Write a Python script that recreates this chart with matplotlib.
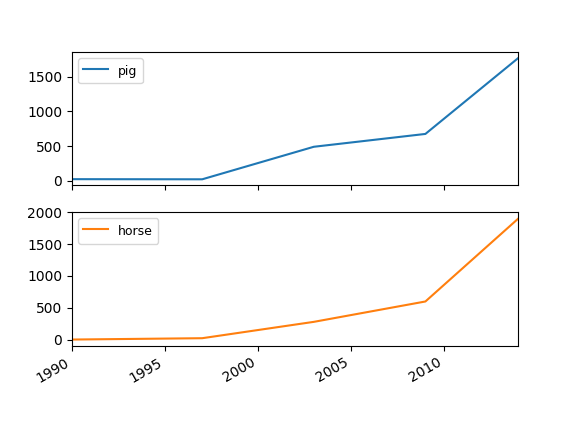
import pandas as pd
import matplotlib
matplotlib.use('Agg')
import matplotlib.pyplot as plt
from matplotlib.ticker import MultipleLocator

# values
years = [1990, 1997, 2003, 2009, 2014]
pig = [20, 18, 489, 675, 1776]
horse = [4, 25, 281, 600, 1900]

df = pd.DataFrame({'pig': pig, 'horse': horse}, index=years)

fig, axes = plt.subplots(2, 1, sharex=True, figsize=(5.76, 4.32))
df.plot.line(subplots=True, ax=axes, legend=False)
for ax in axes:
    ax.set_xlim(years[0], years[-1])
    ax.yaxis.set_major_locator(MultipleLocator(500))
    ax.legend(loc='upper left', fontsize=9, handleheight=1.5)
axes[1].set_ylim(top=2000)
fig.autofmt_xdate()
plt.savefig('out.png', dpi=100)
